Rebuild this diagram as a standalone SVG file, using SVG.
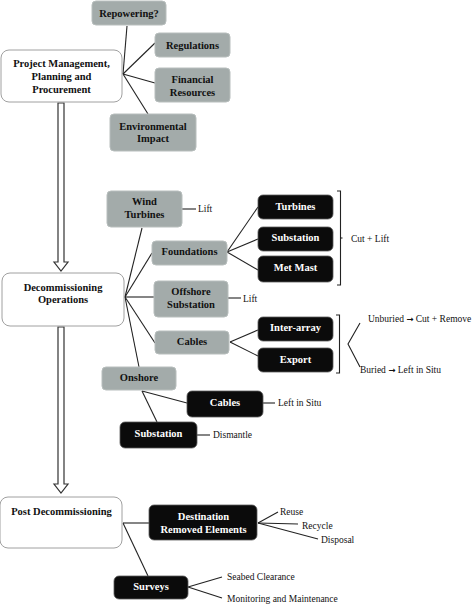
<svg xmlns="http://www.w3.org/2000/svg" width="474" height="610" viewBox="0 0 474 610">
<style>
.w{fill:#fff;stroke:#a0a0a0;stroke-width:1}
.g{fill:#a3abaa;stroke:#b8bebd;stroke-width:1}
.b{fill:#0b0b0b;stroke:#5a5a5a;stroke-width:0.8}
.tb{font-family:"Liberation Serif",serif;font-weight:bold;font-size:10.5px;fill:#111;text-anchor:middle}
.tw{font-family:"Liberation Serif",serif;font-weight:bold;font-size:10.5px;fill:#fff;text-anchor:middle}
.t{font-family:"Liberation Serif",serif;font-size:9.5px;fill:#111}
.arw{font-family:"DejaVu Sans",sans-serif;font-weight:bold;font-size:8.5px}
.c line,.c polyline{stroke:#222;stroke-width:1.1;fill:none}
.ar{fill:#fff;stroke:#333;stroke-width:1.2}
</style>
<rect width="474" height="610" fill="#fff"/>
<g id="connectors" class="c">
<line x1="123" y1="74" x2="127" y2="26"/>
<line x1="123" y1="74" x2="155" y2="43"/>
<line x1="123" y1="74" x2="155" y2="83"/>
<line x1="123" y1="74" x2="148" y2="114"/>
<line x1="125" y1="297" x2="142" y2="228"/>
<line x1="125" y1="297" x2="152" y2="253"/>
<line x1="125" y1="297" x2="154" y2="297"/>
<line x1="125" y1="297" x2="155" y2="343"/>
<line x1="125" y1="297" x2="139" y2="367"/>
<line x1="182" y1="209" x2="196" y2="209"/>
<line x1="228" y1="298" x2="241" y2="298"/>
<line x1="227" y1="252" x2="258" y2="207"/>
<line x1="227" y1="252" x2="258" y2="239"/>
<line x1="227" y1="252" x2="258" y2="270"/>
<line x1="230" y1="342" x2="258" y2="330"/>
<line x1="230" y1="342" x2="258" y2="356"/>
<polyline points="337,191 340.5,191 340.5,285 337,285"/>
<line x1="340.5" y1="238" x2="342.5" y2="238"/>
<polyline points="336,315 339.5,315 339.5,373 336,373"/>
<polyline points="360,323 348,344 360,367"/>
<line x1="142" y1="391" x2="187" y2="403"/>
<line x1="142" y1="391" x2="157" y2="422"/>
<line x1="263" y1="403" x2="275" y2="403"/>
<line x1="197" y1="435" x2="210" y2="435"/>
<line x1="123" y1="523" x2="149" y2="523"/>
<line x1="123" y1="523" x2="148" y2="576"/>
<line x1="258" y1="523" x2="278" y2="512"/>
<line x1="258" y1="523" x2="298" y2="524"/>
<line x1="258" y1="523" x2="318" y2="539"/>
<line x1="188" y1="587" x2="222" y2="577"/>
<line x1="188" y1="587" x2="222" y2="598"/>
<polygon class="ar" points="58,103 64,103 64,262 68,262 61,271 54,262 58,262"/>
<polygon class="ar" points="58,327 64,327 64,484 68,484 61,493 54,484 58,484"/>
</g>
<g id="project-management"><rect class="w" x="1" y="50" width="121" height="52" rx="8"/><text class="tb" x="61.5" y="67">Project Management,</text><text class="tb" x="61.5" y="80">Planning and</text><text class="tb" x="61.5" y="93">Procurement</text></g>
<g id="repowering"><rect class="g" x="92" y="1" width="74" height="24" rx="4"/><text class="tb" x="129" y="16.5">Repowering?</text></g>
<g id="regulations"><rect class="g" x="155" y="33" width="75" height="24" rx="4"/><text class="tb" x="192.5" y="48.5">Regulations</text></g>
<g id="financial"><rect class="g" x="155" y="68" width="75" height="34" rx="4"/><text class="tb" x="192.5" y="82.5">Financial</text><text class="tb" x="192.5" y="95.5">Resources</text></g>
<g id="environmental"><rect class="g" x="110" y="114" width="86" height="37" rx="4"/><text class="tb" x="153" y="129.5">Environmental</text><text class="tb" x="153" y="142">Impact</text></g>
<g id="decommissioning"><rect class="w" x="2" y="273" width="122" height="53" rx="8"/><text class="tb" x="63" y="290.5">Decommissioning</text><text class="tb" x="63" y="303">Operations</text></g>
<g id="wind-turbines"><rect class="g" x="107" y="191" width="75" height="36" rx="4"/><text class="tb" x="144.5" y="205">Wind</text><text class="tb" x="144.5" y="218">Turbines</text></g>
<g id="foundations"><rect class="g" x="152" y="241" width="75" height="24" rx="4"/><text class="tb" x="189.5" y="254.5">Foundations</text></g>
<g id="offshore-substation"><rect class="g" x="154" y="281" width="74" height="36" rx="4"/><text class="tb" x="191" y="295">Offshore</text><text class="tb" x="191" y="307.5">Substation</text></g>
<g id="cables-offshore"><rect class="g" x="155" y="331" width="74" height="23" rx="4"/><text class="tb" x="192" y="345">Cables</text></g>
<g id="onshore"><rect class="g" x="102" y="367" width="74" height="23" rx="4"/><text class="tb" x="139" y="380.5">Onshore</text></g>
<g id="turbines"><rect class="b" x="258" y="195" width="75" height="24" rx="5"/><text class="tw" x="295.5" y="209.5">Turbines</text></g>
<g id="substation"><rect class="b" x="258" y="227" width="75" height="24" rx="5"/><text class="tw" x="295.5" y="241">Substation</text></g>
<g id="met-mast"><rect class="b" x="258" y="256" width="75" height="26" rx="5"/><text class="tw" x="295.5" y="271">Met Mast</text></g>
<g id="inter-array"><rect class="b" x="258" y="317" width="75" height="24" rx="5"/><text class="tw" x="295.5" y="331">Inter-array</text></g>
<g id="export"><rect class="b" x="258" y="348" width="75" height="24" rx="5"/><text class="tw" x="295.5" y="362.5">Export</text></g>
<g id="cables-onshore"><rect class="b" x="187" y="391" width="76" height="26" rx="5"/><text class="tw" x="225" y="406">Cables</text></g>
<g id="substation-onshore"><rect class="b" x="120" y="422" width="77" height="26" rx="5"/><text class="tw" x="158.5" y="437">Substation</text></g>
<g id="post-decommissioning"><rect class="w" x="0" y="497" width="122" height="51" rx="8"/><text class="tb" x="61.5" y="514.5">Post Decommissioning</text></g>
<g id="destination"><rect class="b" x="149" y="505" width="108" height="35" rx="5"/><text class="tw" x="203.5" y="519.5">Destination</text><text class="tw" x="203.5" y="532.5">Removed Elements</text></g>
<g id="surveys"><rect class="b" x="114" y="576" width="74" height="23" rx="5"/><text class="tw" x="151" y="590">Surveys</text></g>
<g id="labels">
<text class="t" x="198" y="212">Lift</text>
<text class="t" x="351" y="242">Cut + Lift</text>
<text class="t" x="243" y="301.5">Lift</text>
<text class="t" x="368" y="322">Unburied <tspan class="arw">→</tspan> Cut + Remove</text>
<text class="t" x="360" y="373">Buried <tspan class="arw">→</tspan> Left in Situ</text>
<text class="t" x="278" y="406">Left in Situ</text>
<text class="t" x="213" y="438">Dismantle</text>
<text class="t" x="280" y="515">Reuse</text>
<text class="t" x="302" y="529">Recycle</text>
<text class="t" x="321" y="543">Disposal</text>
<text class="t" x="227" y="580">Seabed Clearance</text>
<text class="t" x="227" y="602">Monitoring and Maintenance</text>
</g>
</svg>
